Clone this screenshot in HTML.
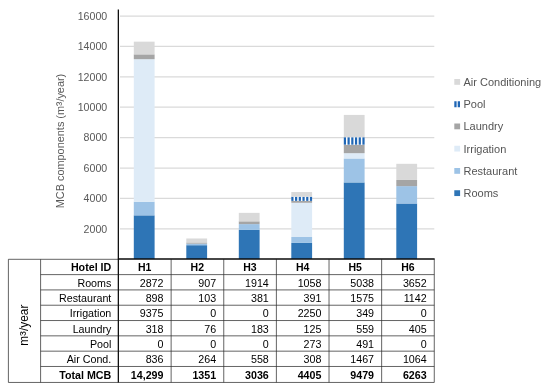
<!DOCTYPE html>
<html><head><meta charset="utf-8"><title>MCB components</title>
<style>html,body{margin:0;padding:0;background:#fff}svg{display:block}</style></head>
<body>
<svg width="550" height="389" viewBox="0 0 550 389" font-family="&quot;Liberation Sans&quot;, Arial, sans-serif">
<defs>
</defs>
<rect x="0" y="0" width="550" height="389" fill="#ffffff"/>
<line x1="120" y1="228.80" x2="434.3" y2="228.80" stroke="#DADADA" stroke-width="1.25"/>
<line x1="120" y1="198.40" x2="434.3" y2="198.40" stroke="#DADADA" stroke-width="1.25"/>
<line x1="120" y1="168.00" x2="434.3" y2="168.00" stroke="#DADADA" stroke-width="1.25"/>
<line x1="120" y1="137.60" x2="434.3" y2="137.60" stroke="#DADADA" stroke-width="1.25"/>
<line x1="120" y1="107.20" x2="434.3" y2="107.20" stroke="#DADADA" stroke-width="1.25"/>
<line x1="120" y1="76.80" x2="434.3" y2="76.80" stroke="#DADADA" stroke-width="1.25"/>
<line x1="120" y1="46.40" x2="434.3" y2="46.40" stroke="#DADADA" stroke-width="1.25"/>
<line x1="120" y1="16.00" x2="434.3" y2="16.00" stroke="#DADADA" stroke-width="1.25"/>
<text x="107.2" y="232.60" font-size="10.6" fill="#595959" text-anchor="end">2000</text>
<text x="107.2" y="202.20" font-size="10.6" fill="#595959" text-anchor="end">4000</text>
<text x="107.2" y="171.80" font-size="10.6" fill="#595959" text-anchor="end">6000</text>
<text x="107.2" y="141.40" font-size="10.6" fill="#595959" text-anchor="end">8000</text>
<text x="107.2" y="111.00" font-size="10.6" fill="#595959" text-anchor="end">10000</text>
<text x="107.2" y="80.60" font-size="10.6" fill="#595959" text-anchor="end">12000</text>
<text x="107.2" y="50.20" font-size="10.6" fill="#595959" text-anchor="end">14000</text>
<text x="107.2" y="19.80" font-size="10.6" fill="#595959" text-anchor="end">16000</text>
<text transform="translate(63.6,141) rotate(-90)" font-size="10.9" fill="#595959" text-anchor="middle">MCB components (m<tspan font-size="13" dy="1.2">³</tspan><tspan dy="-1.2">/year)</tspan></text>
<rect x="133.80" y="215.35" width="20.8" height="43.65" fill="#2E75B6"/>
<rect x="133.80" y="201.70" width="20.8" height="13.65" fill="#9DC3E6"/>
<rect x="133.80" y="59.20" width="20.8" height="142.50" fill="#DEEBF7"/>
<rect x="133.80" y="54.36" width="20.8" height="4.83" fill="#A5A5A5"/>
<rect x="133.80" y="41.66" width="20.8" height="12.71" fill="#D9D9D9"/>
<rect x="186.30" y="245.21" width="20.8" height="13.79" fill="#2E75B6"/>
<rect x="186.30" y="243.65" width="20.8" height="1.57" fill="#9DC3E6"/>
<rect x="186.30" y="242.49" width="20.8" height="1.16" fill="#A5A5A5"/>
<rect x="186.30" y="238.48" width="20.8" height="4.01" fill="#D9D9D9"/>
<rect x="238.80" y="229.91" width="20.8" height="29.09" fill="#2E75B6"/>
<rect x="238.80" y="224.12" width="20.8" height="5.79" fill="#9DC3E6"/>
<rect x="238.80" y="221.33" width="20.8" height="2.78" fill="#A5A5A5"/>
<rect x="238.80" y="212.85" width="20.8" height="8.48" fill="#D9D9D9"/>
<rect x="291.30" y="242.92" width="20.8" height="16.08" fill="#2E75B6"/>
<rect x="291.30" y="236.98" width="20.8" height="5.94" fill="#9DC3E6"/>
<rect x="291.30" y="202.78" width="20.8" height="34.20" fill="#DEEBF7"/>
<rect x="291.30" y="200.88" width="20.8" height="1.90" fill="#A5A5A5"/>
<rect x="291.30" y="196.73" width="20.8" height="4.15" fill="#ffffff"/>
<rect x="291.30" y="196.73" width="2.2" height="4.15" fill="#1F66B5"/>
<rect x="295.02" y="196.73" width="2.2" height="4.15" fill="#1F66B5"/>
<rect x="298.74" y="196.73" width="2.2" height="4.15" fill="#1F66B5"/>
<rect x="302.46" y="196.73" width="2.2" height="4.15" fill="#1F66B5"/>
<rect x="306.18" y="196.73" width="2.2" height="4.15" fill="#1F66B5"/>
<rect x="309.90" y="196.73" width="2.2" height="4.15" fill="#1F66B5"/>
<rect x="291.30" y="192.04" width="20.8" height="4.68" fill="#D9D9D9"/>
<rect x="343.80" y="182.42" width="20.8" height="76.58" fill="#2E75B6"/>
<rect x="343.80" y="158.48" width="20.8" height="23.94" fill="#9DC3E6"/>
<rect x="343.80" y="153.18" width="20.8" height="5.30" fill="#DEEBF7"/>
<rect x="343.80" y="144.68" width="20.8" height="8.50" fill="#A5A5A5"/>
<rect x="343.80" y="137.22" width="20.8" height="7.46" fill="#ffffff"/>
<rect x="343.80" y="137.22" width="2.2" height="7.46" fill="#1F66B5"/>
<rect x="347.52" y="137.22" width="2.2" height="7.46" fill="#1F66B5"/>
<rect x="351.24" y="137.22" width="2.2" height="7.46" fill="#1F66B5"/>
<rect x="354.96" y="137.22" width="2.2" height="7.46" fill="#1F66B5"/>
<rect x="358.68" y="137.22" width="2.2" height="7.46" fill="#1F66B5"/>
<rect x="362.40" y="137.22" width="2.2" height="7.46" fill="#1F66B5"/>
<rect x="343.80" y="114.92" width="20.8" height="22.30" fill="#D9D9D9"/>
<rect x="396.30" y="203.49" width="20.8" height="55.51" fill="#2E75B6"/>
<rect x="396.30" y="186.13" width="20.8" height="17.36" fill="#9DC3E6"/>
<rect x="396.30" y="179.98" width="20.8" height="6.16" fill="#A5A5A5"/>
<rect x="396.30" y="163.80" width="20.8" height="16.17" fill="#D9D9D9"/>
<rect x="454.3" y="79.00" width="5.8" height="5.8" fill="#D9D9D9"/>
<text x="463.5" y="85.90" font-size="11" fill="#555">Air Conditioning</text>
<rect x="454.3" y="101.25" width="2.3" height="6" fill="#1F66B5"/>
<rect x="457.7" y="101.25" width="2.3" height="6" fill="#1F66B5"/>
<text x="463.5" y="108.15" font-size="11" fill="#555">Pool</text>
<rect x="454.3" y="123.50" width="5.8" height="5.8" fill="#A5A5A5"/>
<text x="463.5" y="130.40" font-size="11" fill="#555">Laundry</text>
<rect x="454.3" y="145.75" width="5.8" height="5.8" fill="#DEEBF7"/>
<text x="463.5" y="152.65" font-size="11" fill="#555">Irrigation</text>
<rect x="454.3" y="168.00" width="5.8" height="5.8" fill="#9DC3E6"/>
<text x="463.5" y="174.90" font-size="11" fill="#555">Restaurant</text>
<rect x="454.3" y="190.25" width="5.8" height="5.8" fill="#2E75B6"/>
<text x="463.5" y="197.15" font-size="11" fill="#555">Rooms</text>
<line x1="8.4" y1="259.3" x2="8.4" y2="382.45" stroke="#303030" stroke-width="0.75"/>
<line x1="8.4" y1="259.3" x2="118.5" y2="259.3" stroke="#303030" stroke-width="0.75"/>
<line x1="8.4" y1="382.45" x2="434.28" y2="382.45" stroke="#303030" stroke-width="0.75"/>
<line x1="40.6" y1="259.3" x2="40.6" y2="382.45" stroke="#303030" stroke-width="0.75"/>
<line x1="40.6" y1="274.61" x2="434.28" y2="274.61" stroke="#303030" stroke-width="0.75"/>
<line x1="40.6" y1="289.92" x2="434.28" y2="289.92" stroke="#303030" stroke-width="0.75"/>
<line x1="40.6" y1="305.23" x2="434.28" y2="305.23" stroke="#303030" stroke-width="0.75"/>
<line x1="40.6" y1="320.54" x2="434.28" y2="320.54" stroke="#303030" stroke-width="0.75"/>
<line x1="40.6" y1="335.85" x2="434.28" y2="335.85" stroke="#303030" stroke-width="0.75"/>
<line x1="40.6" y1="351.16" x2="434.28" y2="351.16" stroke="#303030" stroke-width="0.75"/>
<line x1="40.6" y1="366.47" x2="434.28" y2="366.47" stroke="#303030" stroke-width="0.75"/>
<line x1="171.13" y1="259.3" x2="171.13" y2="382.45" stroke="#303030" stroke-width="0.75"/>
<line x1="223.76" y1="259.3" x2="223.76" y2="382.45" stroke="#303030" stroke-width="0.75"/>
<line x1="276.39" y1="259.3" x2="276.39" y2="382.45" stroke="#303030" stroke-width="0.75"/>
<line x1="329.02" y1="259.3" x2="329.02" y2="382.45" stroke="#303030" stroke-width="0.75"/>
<line x1="381.65" y1="259.3" x2="381.65" y2="382.45" stroke="#303030" stroke-width="0.75"/>
<line x1="434.28" y1="259.3" x2="434.28" y2="382.45" stroke="#303030" stroke-width="0.75"/>
<line x1="118.35" y1="9.5" x2="118.35" y2="382.45" stroke="#111" stroke-width="1.3"/>
<line x1="117.9" y1="259.1" x2="434.68" y2="259.1" stroke="#0a0a0a" stroke-width="1.5"/>
<text x="111.3" y="271.30" font-size="10.7" fill="#000" text-anchor="end" font-weight="bold">Hotel ID</text>
<text x="144.72" y="271.30" font-size="10.5" fill="#000" text-anchor="middle" font-weight="bold">H1</text>
<text x="197.34" y="271.30" font-size="10.5" fill="#000" text-anchor="middle" font-weight="bold">H2</text>
<text x="249.97" y="271.30" font-size="10.5" fill="#000" text-anchor="middle" font-weight="bold">H3</text>
<text x="302.60" y="271.30" font-size="10.5" fill="#000" text-anchor="middle" font-weight="bold">H4</text>
<text x="355.24" y="271.30" font-size="10.5" fill="#000" text-anchor="middle" font-weight="bold">H5</text>
<text x="407.87" y="271.30" font-size="10.5" fill="#000" text-anchor="middle" font-weight="bold">H6</text>
<text x="111.3" y="286.61" font-size="10.7" fill="#000" text-anchor="end">Rooms</text>
<text x="163.53" y="286.61" font-size="10.7" fill="#000" text-anchor="end">2872</text>
<text x="216.16" y="286.61" font-size="10.7" fill="#000" text-anchor="end">907</text>
<text x="268.79" y="286.61" font-size="10.7" fill="#000" text-anchor="end">1914</text>
<text x="321.42" y="286.61" font-size="10.7" fill="#000" text-anchor="end">1058</text>
<text x="374.05" y="286.61" font-size="10.7" fill="#000" text-anchor="end">5038</text>
<text x="426.68" y="286.61" font-size="10.7" fill="#000" text-anchor="end">3652</text>
<text x="111.3" y="301.92" font-size="10.7" fill="#000" text-anchor="end">Restaurant</text>
<text x="163.53" y="301.92" font-size="10.7" fill="#000" text-anchor="end">898</text>
<text x="216.16" y="301.92" font-size="10.7" fill="#000" text-anchor="end">103</text>
<text x="268.79" y="301.92" font-size="10.7" fill="#000" text-anchor="end">381</text>
<text x="321.42" y="301.92" font-size="10.7" fill="#000" text-anchor="end">391</text>
<text x="374.05" y="301.92" font-size="10.7" fill="#000" text-anchor="end">1575</text>
<text x="426.68" y="301.92" font-size="10.7" fill="#000" text-anchor="end">1142</text>
<text x="111.3" y="317.23" font-size="10.7" fill="#000" text-anchor="end">Irrigation</text>
<text x="163.53" y="317.23" font-size="10.7" fill="#000" text-anchor="end">9375</text>
<text x="216.16" y="317.23" font-size="10.7" fill="#000" text-anchor="end">0</text>
<text x="268.79" y="317.23" font-size="10.7" fill="#000" text-anchor="end">0</text>
<text x="321.42" y="317.23" font-size="10.7" fill="#000" text-anchor="end">2250</text>
<text x="374.05" y="317.23" font-size="10.7" fill="#000" text-anchor="end">349</text>
<text x="426.68" y="317.23" font-size="10.7" fill="#000" text-anchor="end">0</text>
<text x="111.3" y="332.54" font-size="10.7" fill="#000" text-anchor="end">Laundry</text>
<text x="163.53" y="332.54" font-size="10.7" fill="#000" text-anchor="end">318</text>
<text x="216.16" y="332.54" font-size="10.7" fill="#000" text-anchor="end">76</text>
<text x="268.79" y="332.54" font-size="10.7" fill="#000" text-anchor="end">183</text>
<text x="321.42" y="332.54" font-size="10.7" fill="#000" text-anchor="end">125</text>
<text x="374.05" y="332.54" font-size="10.7" fill="#000" text-anchor="end">559</text>
<text x="426.68" y="332.54" font-size="10.7" fill="#000" text-anchor="end">405</text>
<text x="111.3" y="347.85" font-size="10.7" fill="#000" text-anchor="end">Pool</text>
<text x="163.53" y="347.85" font-size="10.7" fill="#000" text-anchor="end">0</text>
<text x="216.16" y="347.85" font-size="10.7" fill="#000" text-anchor="end">0</text>
<text x="268.79" y="347.85" font-size="10.7" fill="#000" text-anchor="end">0</text>
<text x="321.42" y="347.85" font-size="10.7" fill="#000" text-anchor="end">273</text>
<text x="374.05" y="347.85" font-size="10.7" fill="#000" text-anchor="end">491</text>
<text x="426.68" y="347.85" font-size="10.7" fill="#000" text-anchor="end">0</text>
<text x="111.3" y="363.16" font-size="10.7" fill="#000" text-anchor="end">Air Cond.</text>
<text x="163.53" y="363.16" font-size="10.7" fill="#000" text-anchor="end">836</text>
<text x="216.16" y="363.16" font-size="10.7" fill="#000" text-anchor="end">264</text>
<text x="268.79" y="363.16" font-size="10.7" fill="#000" text-anchor="end">558</text>
<text x="321.42" y="363.16" font-size="10.7" fill="#000" text-anchor="end">308</text>
<text x="374.05" y="363.16" font-size="10.7" fill="#000" text-anchor="end">1467</text>
<text x="426.68" y="363.16" font-size="10.7" fill="#000" text-anchor="end">1064</text>
<text x="111.3" y="378.87" font-size="10.7" fill="#000" text-anchor="end" font-weight="bold">Total MCB</text>
<text x="163.53" y="378.87" font-size="10.7" fill="#000" text-anchor="end" font-weight="bold">14,299</text>
<text x="216.16" y="378.87" font-size="10.7" fill="#000" text-anchor="end" font-weight="bold">1351</text>
<text x="268.79" y="378.87" font-size="10.7" fill="#000" text-anchor="end" font-weight="bold">3036</text>
<text x="321.42" y="378.87" font-size="10.7" fill="#000" text-anchor="end" font-weight="bold">4405</text>
<text x="374.05" y="378.87" font-size="10.7" fill="#000" text-anchor="end" font-weight="bold">9479</text>
<text x="426.68" y="378.87" font-size="10.7" fill="#000" text-anchor="end" font-weight="bold">6263</text>
<text transform="translate(28.2,325.2) rotate(-90)" font-size="11.9" fill="#000" text-anchor="middle">m<tspan font-size="14.5" dy="1.4">³</tspan><tspan dy="-1.4">/year</tspan></text>
</svg>
</body></html>
